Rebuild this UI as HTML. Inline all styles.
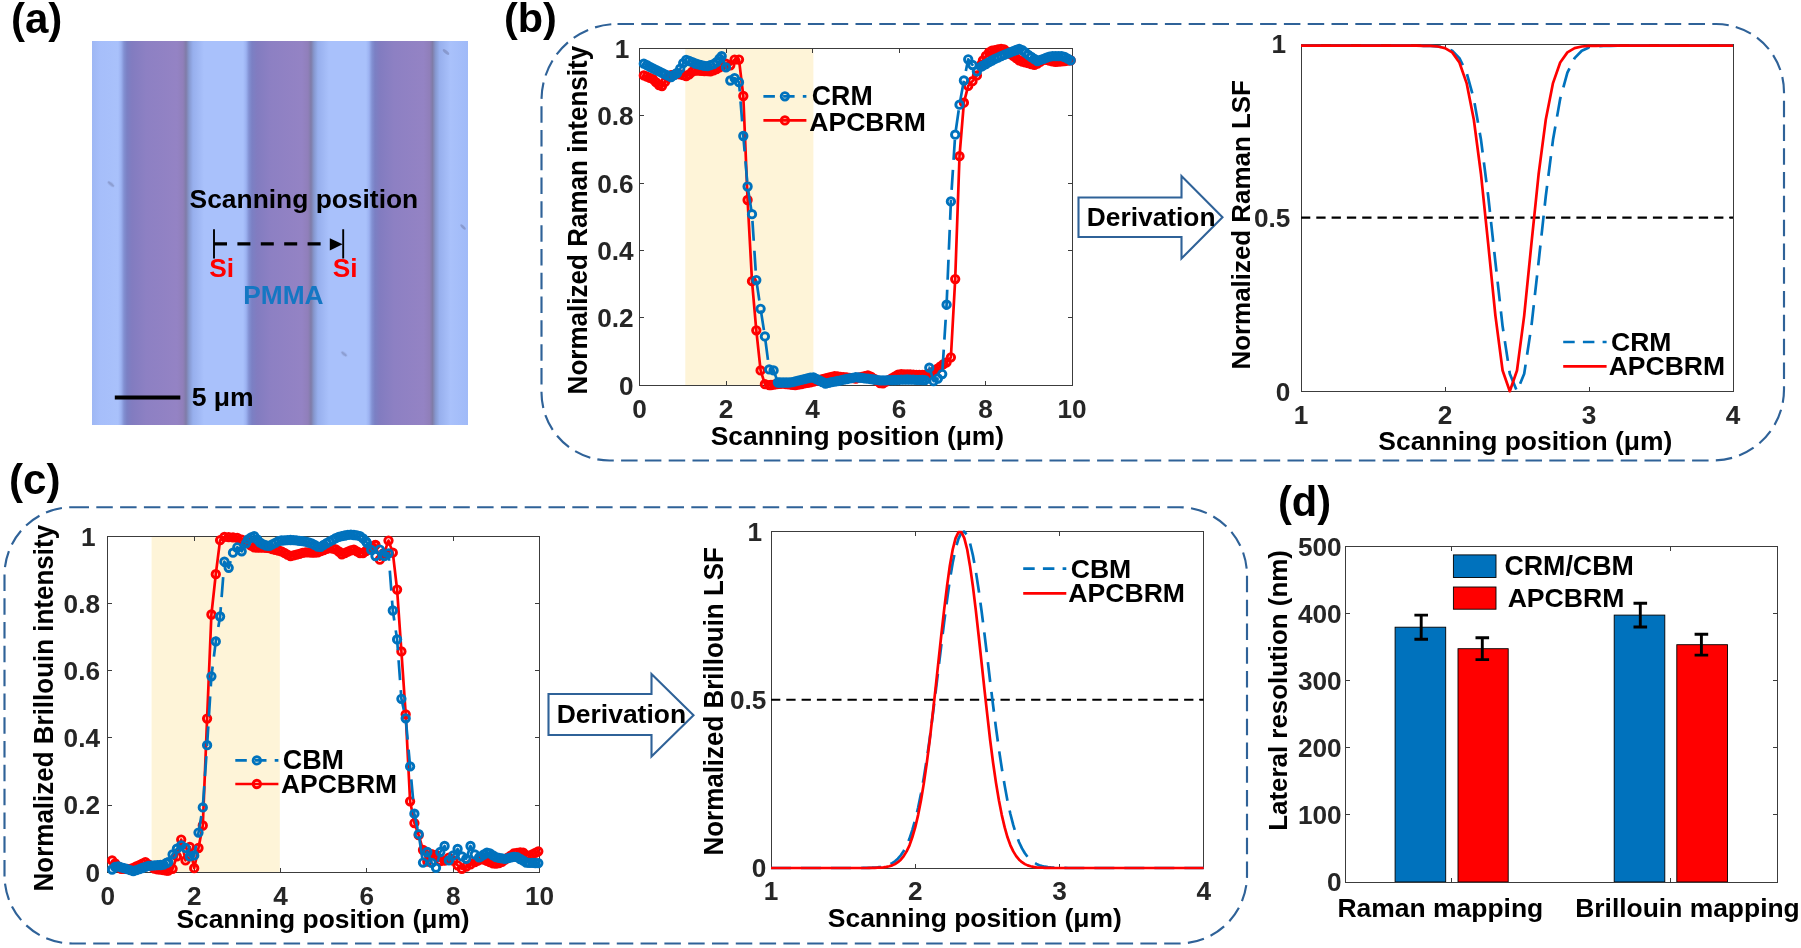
<!DOCTYPE html>
<html><head><meta charset="utf-8"><title>Figure</title>
<style>html,body{margin:0;padding:0;background:#fff}svg{display:block}text{font-family:"Liberation Sans",Arial,sans-serif;font-weight:bold}</style>
</head><body>
<svg width="1801" height="948" viewBox="0 0 1801 948">
<rect width="1801" height="948" fill="#fff"/>
<defs><linearGradient id="ph" gradientUnits="userSpaceOnUse" x1="92" y1="0" x2="468" y2="0">
<stop offset="0.0000" stop-color="rgb(158,183,244)"/>
<stop offset="0.0213" stop-color="rgb(166,190,250)"/>
<stop offset="0.0691" stop-color="rgb(169,193,251)"/>
<stop offset="0.0771" stop-color="rgb(156,178,241)"/>
<stop offset="0.0851" stop-color="rgb(130,144,210)"/>
<stop offset="0.0931" stop-color="rgb(123,128,196)"/>
<stop offset="0.1064" stop-color="rgb(130,124,192)"/>
<stop offset="0.1436" stop-color="rgb(141,128,195)"/>
<stop offset="0.2261" stop-color="rgb(148,131,196)"/>
<stop offset="0.2420" stop-color="rgb(144,127,186)"/>
<stop offset="0.2500" stop-color="rgb(127,124,168)"/>
<stop offset="0.2580" stop-color="rgb(134,152,207)"/>
<stop offset="0.2686" stop-color="rgb(151,175,237)"/>
<stop offset="0.2979" stop-color="rgb(169,193,251)"/>
<stop offset="0.4016" stop-color="rgb(169,193,251)"/>
<stop offset="0.4096" stop-color="rgb(156,178,241)"/>
<stop offset="0.4176" stop-color="rgb(130,144,210)"/>
<stop offset="0.4255" stop-color="rgb(123,128,196)"/>
<stop offset="0.4388" stop-color="rgb(130,124,192)"/>
<stop offset="0.4761" stop-color="rgb(141,128,195)"/>
<stop offset="0.5585" stop-color="rgb(148,131,196)"/>
<stop offset="0.5745" stop-color="rgb(144,127,186)"/>
<stop offset="0.5824" stop-color="rgb(127,124,168)"/>
<stop offset="0.5904" stop-color="rgb(134,152,207)"/>
<stop offset="0.6011" stop-color="rgb(151,175,237)"/>
<stop offset="0.6303" stop-color="rgb(169,193,251)"/>
<stop offset="0.7287" stop-color="rgb(169,193,251)"/>
<stop offset="0.7367" stop-color="rgb(156,178,241)"/>
<stop offset="0.7447" stop-color="rgb(130,144,210)"/>
<stop offset="0.7527" stop-color="rgb(123,128,196)"/>
<stop offset="0.7660" stop-color="rgb(130,124,192)"/>
<stop offset="0.8032" stop-color="rgb(141,128,195)"/>
<stop offset="0.8816" stop-color="rgb(148,131,196)"/>
<stop offset="0.8976" stop-color="rgb(144,127,186)"/>
<stop offset="0.9056" stop-color="rgb(127,124,168)"/>
<stop offset="0.9136" stop-color="rgb(134,152,207)"/>
<stop offset="0.9242" stop-color="rgb(151,175,237)"/>
<stop offset="0.9535" stop-color="rgb(169,193,251)"/>
<stop offset="1.0000" stop-color="rgb(160,186,248)"/>
</linearGradient></defs>
<rect x="92" y="41" width="376" height="384" fill="url(#ph)"/>
<g fill="#5a5f86" opacity="0.35"><ellipse cx="111" cy="184" rx="4" ry="1.6" transform="rotate(40 111 184)"/><ellipse cx="344" cy="354" rx="3.5" ry="1.4" transform="rotate(40 344 354)"/><ellipse cx="463" cy="227" rx="3.5" ry="1.4" transform="rotate(45 463 227)"/><ellipse cx="446" cy="52" rx="4" ry="1.5" transform="rotate(40 446 52)"/></g>
<text x="10.90" y="32.5" font-size="42.04" fill="#000">(a)</text>
<text x="189.61" y="208.0" font-size="26.39" fill="#000">Scanning position</text>
<path d="M214,229.3V258.5M343.2,229.3V258.5" stroke="#000" stroke-width="1.9" fill="none"/>
<path d="M214,243.8H326" stroke="#000" stroke-width="3.3" stroke-dasharray="13,10.4" fill="none"/>
<path d="M342.6,244.3L329.8,238.3V250.5Z" fill="#000"/>
<text x="209.21" y="277.0" font-size="26.27" fill="#FF0000">Si</text>
<text x="332.71" y="277.0" font-size="26.27" fill="#FF0000">Si</text>
<text x="243.19" y="304.4" font-size="26.31" fill="#1577C3">PMMA</text>
<path d="M114.8,397.5H180.3" stroke="#000" stroke-width="4"/>
<text x="191.70" y="406.0" font-size="26.55" fill="#000">5 μm</text>
<path d="M617.5,24H1716A68,68 0 0 1 1784,92V389.5A71,71 0 0 1 1713,460.5H609.5A68,68 0 0 1 541.5,392.5V100A76,76 0 0 1 617.5,24Z" fill="none" stroke="#2F6298" stroke-width="2.15" stroke-dasharray="16.5,7.3"/>
<rect x="4.5" y="507.2" width="1242.5" height="436.3" rx="68" ry="68" fill="none" stroke="#2F6298" stroke-width="2.15" stroke-dasharray="16.5,7.3"/>
<text x="503.93" y="32.2" font-size="41.44" fill="#000">(b)</text>
<rect x="685.3" y="48.5" width="128.10000000000002" height="336.7" fill="#FEF4D8"/>
<path d="M639.5,385.2v-4.3M639.5,48.5v4.3M726.0,385.2v-4.3M726.0,48.5v4.3M812.5,385.2v-4.3M812.5,48.5v4.3M899.0,385.2v-4.3M899.0,48.5v4.3M985.5,385.2v-4.3M985.5,48.5v4.3M1072.0,385.2v-4.3M1072.0,48.5v4.3M639.5,385.2h4.3M1072,385.2h-4.3M639.5,317.9h4.3M1072,317.9h-4.3M639.5,250.5h4.3M1072,250.5h-4.3M639.5,183.2h4.3M1072,183.2h-4.3M639.5,115.8h4.3M1072,115.8h-4.3M639.5,48.5h4.3M1072,48.5h-4.3" stroke="#3c3c3c" stroke-width="1" fill="none" shape-rendering="crispEdges"/>
<rect x="639.5" y="48.5" width="432.5" height="336.7" fill="none" stroke="#3c3c3c" stroke-width="1" shape-rendering="crispEdges"/>
<polyline points="643.8,75.4 646.9,76.6 649.9,77.8 652.9,79.2 655.9,82.2 659.0,85.1 662.0,86.0 665.0,81.9 668.0,77.8 671.1,75.2 674.1,74.6 677.1,74.0 680.2,74.3 683.2,75.2 686.2,76.2 689.2,74.4 692.3,71.6 695.3,70.5 698.3,70.7 701.3,70.8 704.4,71.0 707.4,71.2 710.4,71.4 713.5,70.3 716.5,69.1 719.5,67.4 721.7,66.2 726.0,63.7 730.3,65.3 734.6,59.6 739.0,59.6 743.3,96.0 747.6,200.0 752.0,281.2 756.3,330.3 760.6,370.4 764.9,384.2 769.2,385.2 771.0,385.0 774.0,384.6 777.0,384.2 780.1,383.8 783.1,383.6 786.1,384.0 789.1,384.4 792.2,384.8 795.2,385.2 798.2,384.6 801.3,384.0 804.3,383.4 807.3,382.8 810.3,382.3 813.4,381.6 816.4,380.8 819.4,380.0 822.4,379.2 825.5,378.4 828.5,377.6 831.5,376.8 834.6,376.2 837.6,376.5 840.6,376.8 843.6,377.1 846.7,377.5 849.7,377.8 852.7,378.1 855.8,378.5 858.8,377.7 861.8,376.9 864.8,376.1 867.9,375.3 870.9,376.6 873.9,378.7 876.9,380.9 880.0,383.0 883.0,383.4 886.0,381.7 889.1,379.9 892.1,378.1 895.1,376.4 898.1,374.6 901.2,374.2 904.2,374.3 907.2,374.4 910.2,374.5 913.3,374.6 916.3,374.8 919.3,374.9 922.4,375.0 925.4,374.9 928.4,373.8 931.4,372.6 934.5,371.1 937.5,368.7 940.5,366.3 943.5,364.2 946.6,362.3 950.9,357.3 955.2,279.1 959.5,156.2 963.9,102.7 968.2,85.9 972.5,81.2 976.9,75.4 981.2,64.7 982.9,60.4 985.9,56.0 989.0,52.3 992.0,50.7 995.0,50.1 998.0,49.5 1001.1,48.9 1004.1,49.4 1007.1,51.6 1010.2,53.8 1013.2,55.9 1016.2,58.1 1019.2,60.3 1022.3,61.5 1025.3,62.3 1028.3,63.2 1031.3,64.0 1034.4,64.8 1037.4,63.6 1040.4,61.6 1043.5,59.6 1046.5,59.9 1049.5,60.7 1052.5,61.4 1055.6,61.9 1058.6,61.6 1061.6,61.3 1064.6,61.0 1067.7,60.7 1070.7,60.4" fill="none" stroke="#FF0000" stroke-width="2.7" stroke-linejoin="round"/>
<g fill="none" stroke="#FF0000" stroke-width="2.9">
<circle cx="643.8" cy="75.4" r="3.7"/>
<circle cx="646.9" cy="76.6" r="3.7"/>
<circle cx="649.9" cy="77.8" r="3.7"/>
<circle cx="652.9" cy="79.2" r="3.7"/>
<circle cx="655.9" cy="82.2" r="3.7"/>
<circle cx="659.0" cy="85.1" r="3.7"/>
<circle cx="662.0" cy="86.0" r="3.7"/>
<circle cx="665.0" cy="81.9" r="3.7"/>
<circle cx="668.0" cy="77.8" r="3.7"/>
<circle cx="671.1" cy="75.2" r="3.7"/>
<circle cx="674.1" cy="74.6" r="3.7"/>
<circle cx="677.1" cy="74.0" r="3.7"/>
<circle cx="680.2" cy="74.3" r="3.7"/>
<circle cx="683.2" cy="75.2" r="3.7"/>
<circle cx="686.2" cy="76.2" r="3.7"/>
<circle cx="689.2" cy="74.4" r="3.7"/>
<circle cx="692.3" cy="71.6" r="3.7"/>
<circle cx="695.3" cy="70.5" r="3.7"/>
<circle cx="698.3" cy="70.7" r="3.7"/>
<circle cx="701.3" cy="70.8" r="3.7"/>
<circle cx="704.4" cy="71.0" r="3.7"/>
<circle cx="707.4" cy="71.2" r="3.7"/>
<circle cx="710.4" cy="71.4" r="3.7"/>
<circle cx="713.5" cy="70.3" r="3.7"/>
<circle cx="716.5" cy="69.1" r="3.7"/>
<circle cx="719.5" cy="67.4" r="3.7"/>
<circle cx="721.7" cy="66.2" r="3.7"/>
<circle cx="726.0" cy="63.7" r="3.7"/>
<circle cx="730.3" cy="65.3" r="3.7"/>
<circle cx="734.6" cy="59.6" r="3.7"/>
<circle cx="739.0" cy="59.6" r="3.7"/>
<circle cx="743.3" cy="96.0" r="3.7"/>
<circle cx="747.6" cy="200.0" r="3.7"/>
<circle cx="752.0" cy="281.2" r="3.7"/>
<circle cx="756.3" cy="330.3" r="3.7"/>
<circle cx="760.6" cy="370.4" r="3.7"/>
<circle cx="764.9" cy="384.2" r="3.7"/>
<circle cx="769.2" cy="385.2" r="3.7"/>
<circle cx="771.0" cy="385.0" r="3.7"/>
<circle cx="774.0" cy="384.6" r="3.7"/>
<circle cx="777.0" cy="384.2" r="3.7"/>
<circle cx="780.1" cy="383.8" r="3.7"/>
<circle cx="783.1" cy="383.6" r="3.7"/>
<circle cx="786.1" cy="384.0" r="3.7"/>
<circle cx="789.1" cy="384.4" r="3.7"/>
<circle cx="792.2" cy="384.8" r="3.7"/>
<circle cx="795.2" cy="385.2" r="3.7"/>
<circle cx="798.2" cy="384.6" r="3.7"/>
<circle cx="801.3" cy="384.0" r="3.7"/>
<circle cx="804.3" cy="383.4" r="3.7"/>
<circle cx="807.3" cy="382.8" r="3.7"/>
<circle cx="810.3" cy="382.3" r="3.7"/>
<circle cx="813.4" cy="381.6" r="3.7"/>
<circle cx="816.4" cy="380.8" r="3.7"/>
<circle cx="819.4" cy="380.0" r="3.7"/>
<circle cx="822.4" cy="379.2" r="3.7"/>
<circle cx="825.5" cy="378.4" r="3.7"/>
<circle cx="828.5" cy="377.6" r="3.7"/>
<circle cx="831.5" cy="376.8" r="3.7"/>
<circle cx="834.6" cy="376.2" r="3.7"/>
<circle cx="837.6" cy="376.5" r="3.7"/>
<circle cx="840.6" cy="376.8" r="3.7"/>
<circle cx="843.6" cy="377.1" r="3.7"/>
<circle cx="846.7" cy="377.5" r="3.7"/>
<circle cx="849.7" cy="377.8" r="3.7"/>
<circle cx="852.7" cy="378.1" r="3.7"/>
<circle cx="855.8" cy="378.5" r="3.7"/>
<circle cx="858.8" cy="377.7" r="3.7"/>
<circle cx="861.8" cy="376.9" r="3.7"/>
<circle cx="864.8" cy="376.1" r="3.7"/>
<circle cx="867.9" cy="375.3" r="3.7"/>
<circle cx="870.9" cy="376.6" r="3.7"/>
<circle cx="873.9" cy="378.7" r="3.7"/>
<circle cx="876.9" cy="380.9" r="3.7"/>
<circle cx="880.0" cy="383.0" r="3.7"/>
<circle cx="883.0" cy="383.4" r="3.7"/>
<circle cx="886.0" cy="381.7" r="3.7"/>
<circle cx="889.1" cy="379.9" r="3.7"/>
<circle cx="892.1" cy="378.1" r="3.7"/>
<circle cx="895.1" cy="376.4" r="3.7"/>
<circle cx="898.1" cy="374.6" r="3.7"/>
<circle cx="901.2" cy="374.2" r="3.7"/>
<circle cx="904.2" cy="374.3" r="3.7"/>
<circle cx="907.2" cy="374.4" r="3.7"/>
<circle cx="910.2" cy="374.5" r="3.7"/>
<circle cx="913.3" cy="374.6" r="3.7"/>
<circle cx="916.3" cy="374.8" r="3.7"/>
<circle cx="919.3" cy="374.9" r="3.7"/>
<circle cx="922.4" cy="375.0" r="3.7"/>
<circle cx="925.4" cy="374.9" r="3.7"/>
<circle cx="928.4" cy="373.8" r="3.7"/>
<circle cx="931.4" cy="372.6" r="3.7"/>
<circle cx="934.5" cy="371.1" r="3.7"/>
<circle cx="937.5" cy="368.7" r="3.7"/>
<circle cx="940.5" cy="366.3" r="3.7"/>
<circle cx="943.5" cy="364.2" r="3.7"/>
<circle cx="946.6" cy="362.3" r="3.7"/>
<circle cx="950.9" cy="357.3" r="3.7"/>
<circle cx="955.2" cy="279.1" r="3.7"/>
<circle cx="959.5" cy="156.2" r="3.7"/>
<circle cx="963.9" cy="102.7" r="3.7"/>
<circle cx="968.2" cy="85.9" r="3.7"/>
<circle cx="972.5" cy="81.2" r="3.7"/>
<circle cx="976.9" cy="75.4" r="3.7"/>
<circle cx="981.2" cy="64.7" r="3.7"/>
<circle cx="982.9" cy="60.4" r="3.7"/>
<circle cx="985.9" cy="56.0" r="3.7"/>
<circle cx="989.0" cy="52.3" r="3.7"/>
<circle cx="992.0" cy="50.7" r="3.7"/>
<circle cx="995.0" cy="50.1" r="3.7"/>
<circle cx="998.0" cy="49.5" r="3.7"/>
<circle cx="1001.1" cy="48.9" r="3.7"/>
<circle cx="1004.1" cy="49.4" r="3.7"/>
<circle cx="1007.1" cy="51.6" r="3.7"/>
<circle cx="1010.2" cy="53.8" r="3.7"/>
<circle cx="1013.2" cy="55.9" r="3.7"/>
<circle cx="1016.2" cy="58.1" r="3.7"/>
<circle cx="1019.2" cy="60.3" r="3.7"/>
<circle cx="1022.3" cy="61.5" r="3.7"/>
<circle cx="1025.3" cy="62.3" r="3.7"/>
<circle cx="1028.3" cy="63.2" r="3.7"/>
<circle cx="1031.3" cy="64.0" r="3.7"/>
<circle cx="1034.4" cy="64.8" r="3.7"/>
<circle cx="1037.4" cy="63.6" r="3.7"/>
<circle cx="1040.4" cy="61.6" r="3.7"/>
<circle cx="1043.5" cy="59.6" r="3.7"/>
<circle cx="1046.5" cy="59.9" r="3.7"/>
<circle cx="1049.5" cy="60.7" r="3.7"/>
<circle cx="1052.5" cy="61.4" r="3.7"/>
<circle cx="1055.6" cy="61.9" r="3.7"/>
<circle cx="1058.6" cy="61.6" r="3.7"/>
<circle cx="1061.6" cy="61.3" r="3.7"/>
<circle cx="1064.6" cy="61.0" r="3.7"/>
<circle cx="1067.7" cy="60.7" r="3.7"/>
<circle cx="1070.7" cy="60.4" r="3.7"/>
</g>
<polyline points="643.8,63.7 646.9,65.2 649.9,66.8 652.9,68.4 655.9,69.9 659.0,71.4 662.0,72.8 665.0,74.3 668.0,75.7 671.1,77.1 674.1,75.0 677.1,73.0 680.2,68.7 683.2,63.1 686.2,59.8 689.2,61.0 692.3,62.2 695.3,63.5 698.3,64.3 701.3,65.1 704.4,65.8 707.4,66.1 710.4,65.1 713.5,64.2 716.5,62.2 719.5,58.7 721.7,56.2 726.0,67.4 730.3,80.5 734.6,78.1 739.0,82.2 743.3,136.0 747.6,186.5 752.0,214.2 756.3,280.1 760.6,308.8 764.9,336.4 769.2,369.4 773.6,370.4 777.9,382.5 780.1,382.5 783.1,382.5 786.1,382.5 789.1,382.5 792.2,382.2 795.2,381.4 798.2,380.7 801.3,379.9 804.3,379.2 807.3,378.4 810.3,377.7 813.4,377.5 816.4,379.0 819.4,380.5 822.4,382.0 825.5,383.5 828.5,382.9 831.5,382.2 834.6,381.6 837.6,381.0 840.6,380.3 843.6,379.7 846.7,379.0 849.7,378.4 852.7,377.8 855.8,377.1 858.8,377.5 861.8,377.9 864.8,378.3 867.9,378.7 870.9,379.1 873.9,379.5 876.9,379.9 880.0,380.3 883.0,380.4 886.0,380.3 889.1,380.2 892.1,380.1 895.1,380.0 898.1,379.8 901.2,379.7 904.2,379.6 907.2,379.5 910.2,379.6 913.3,379.7 916.3,379.8 919.3,379.9 922.4,380.0 925.0,380.1 929.3,367.7 933.6,381.2 937.9,378.5 942.2,374.1 946.6,304.7 950.9,201.4 955.2,134.7 959.5,104.7 963.9,80.5 968.2,59.3 972.5,65.0 976.9,71.4 981.2,66.7 982.9,65.7 985.9,64.0 989.0,62.2 992.0,60.5 995.0,58.9 998.0,57.6 1001.1,56.2 1004.1,54.9 1007.1,53.6 1010.2,52.4 1013.2,51.2 1016.2,50.0 1019.2,48.8 1022.3,50.2 1025.3,52.5 1028.3,54.9 1031.3,57.0 1034.4,59.0 1037.4,61.0 1040.4,59.9 1043.5,58.8 1046.5,57.7 1049.5,56.6 1052.5,56.2 1055.6,56.2 1058.6,56.2 1061.6,56.2 1064.6,57.0 1067.7,58.6 1070.7,60.3" fill="none" stroke="#0072BD" stroke-width="2.7" stroke-dasharray="20,10" stroke-linejoin="round"/>
<g fill="none" stroke="#0072BD" stroke-width="2.9">
<circle cx="643.8" cy="63.7" r="3.7"/>
<circle cx="646.9" cy="65.2" r="3.7"/>
<circle cx="649.9" cy="66.8" r="3.7"/>
<circle cx="652.9" cy="68.4" r="3.7"/>
<circle cx="655.9" cy="69.9" r="3.7"/>
<circle cx="659.0" cy="71.4" r="3.7"/>
<circle cx="662.0" cy="72.8" r="3.7"/>
<circle cx="665.0" cy="74.3" r="3.7"/>
<circle cx="668.0" cy="75.7" r="3.7"/>
<circle cx="671.1" cy="77.1" r="3.7"/>
<circle cx="674.1" cy="75.0" r="3.7"/>
<circle cx="677.1" cy="73.0" r="3.7"/>
<circle cx="680.2" cy="68.7" r="3.7"/>
<circle cx="683.2" cy="63.1" r="3.7"/>
<circle cx="686.2" cy="59.8" r="3.7"/>
<circle cx="689.2" cy="61.0" r="3.7"/>
<circle cx="692.3" cy="62.2" r="3.7"/>
<circle cx="695.3" cy="63.5" r="3.7"/>
<circle cx="698.3" cy="64.3" r="3.7"/>
<circle cx="701.3" cy="65.1" r="3.7"/>
<circle cx="704.4" cy="65.8" r="3.7"/>
<circle cx="707.4" cy="66.1" r="3.7"/>
<circle cx="710.4" cy="65.1" r="3.7"/>
<circle cx="713.5" cy="64.2" r="3.7"/>
<circle cx="716.5" cy="62.2" r="3.7"/>
<circle cx="719.5" cy="58.7" r="3.7"/>
<circle cx="721.7" cy="56.2" r="3.7"/>
<circle cx="726.0" cy="67.4" r="3.7"/>
<circle cx="730.3" cy="80.5" r="3.7"/>
<circle cx="734.6" cy="78.1" r="3.7"/>
<circle cx="739.0" cy="82.2" r="3.7"/>
<circle cx="743.3" cy="136.0" r="3.7"/>
<circle cx="747.6" cy="186.5" r="3.7"/>
<circle cx="752.0" cy="214.2" r="3.7"/>
<circle cx="756.3" cy="280.1" r="3.7"/>
<circle cx="760.6" cy="308.8" r="3.7"/>
<circle cx="764.9" cy="336.4" r="3.7"/>
<circle cx="769.2" cy="369.4" r="3.7"/>
<circle cx="773.6" cy="370.4" r="3.7"/>
<circle cx="777.9" cy="382.5" r="3.7"/>
<circle cx="780.1" cy="382.5" r="3.7"/>
<circle cx="783.1" cy="382.5" r="3.7"/>
<circle cx="786.1" cy="382.5" r="3.7"/>
<circle cx="789.1" cy="382.5" r="3.7"/>
<circle cx="792.2" cy="382.2" r="3.7"/>
<circle cx="795.2" cy="381.4" r="3.7"/>
<circle cx="798.2" cy="380.7" r="3.7"/>
<circle cx="801.3" cy="379.9" r="3.7"/>
<circle cx="804.3" cy="379.2" r="3.7"/>
<circle cx="807.3" cy="378.4" r="3.7"/>
<circle cx="810.3" cy="377.7" r="3.7"/>
<circle cx="813.4" cy="377.5" r="3.7"/>
<circle cx="816.4" cy="379.0" r="3.7"/>
<circle cx="819.4" cy="380.5" r="3.7"/>
<circle cx="822.4" cy="382.0" r="3.7"/>
<circle cx="825.5" cy="383.5" r="3.7"/>
<circle cx="828.5" cy="382.9" r="3.7"/>
<circle cx="831.5" cy="382.2" r="3.7"/>
<circle cx="834.6" cy="381.6" r="3.7"/>
<circle cx="837.6" cy="381.0" r="3.7"/>
<circle cx="840.6" cy="380.3" r="3.7"/>
<circle cx="843.6" cy="379.7" r="3.7"/>
<circle cx="846.7" cy="379.0" r="3.7"/>
<circle cx="849.7" cy="378.4" r="3.7"/>
<circle cx="852.7" cy="377.8" r="3.7"/>
<circle cx="855.8" cy="377.1" r="3.7"/>
<circle cx="858.8" cy="377.5" r="3.7"/>
<circle cx="861.8" cy="377.9" r="3.7"/>
<circle cx="864.8" cy="378.3" r="3.7"/>
<circle cx="867.9" cy="378.7" r="3.7"/>
<circle cx="870.9" cy="379.1" r="3.7"/>
<circle cx="873.9" cy="379.5" r="3.7"/>
<circle cx="876.9" cy="379.9" r="3.7"/>
<circle cx="880.0" cy="380.3" r="3.7"/>
<circle cx="883.0" cy="380.4" r="3.7"/>
<circle cx="886.0" cy="380.3" r="3.7"/>
<circle cx="889.1" cy="380.2" r="3.7"/>
<circle cx="892.1" cy="380.1" r="3.7"/>
<circle cx="895.1" cy="380.0" r="3.7"/>
<circle cx="898.1" cy="379.8" r="3.7"/>
<circle cx="901.2" cy="379.7" r="3.7"/>
<circle cx="904.2" cy="379.6" r="3.7"/>
<circle cx="907.2" cy="379.5" r="3.7"/>
<circle cx="910.2" cy="379.6" r="3.7"/>
<circle cx="913.3" cy="379.7" r="3.7"/>
<circle cx="916.3" cy="379.8" r="3.7"/>
<circle cx="919.3" cy="379.9" r="3.7"/>
<circle cx="922.4" cy="380.0" r="3.7"/>
<circle cx="925.0" cy="380.1" r="3.7"/>
<circle cx="929.3" cy="367.7" r="3.7"/>
<circle cx="933.6" cy="381.2" r="3.7"/>
<circle cx="937.9" cy="378.5" r="3.7"/>
<circle cx="942.2" cy="374.1" r="3.7"/>
<circle cx="946.6" cy="304.7" r="3.7"/>
<circle cx="950.9" cy="201.4" r="3.7"/>
<circle cx="955.2" cy="134.7" r="3.7"/>
<circle cx="959.5" cy="104.7" r="3.7"/>
<circle cx="963.9" cy="80.5" r="3.7"/>
<circle cx="968.2" cy="59.3" r="3.7"/>
<circle cx="972.5" cy="65.0" r="3.7"/>
<circle cx="976.9" cy="71.4" r="3.7"/>
<circle cx="981.2" cy="66.7" r="3.7"/>
<circle cx="982.9" cy="65.7" r="3.7"/>
<circle cx="985.9" cy="64.0" r="3.7"/>
<circle cx="989.0" cy="62.2" r="3.7"/>
<circle cx="992.0" cy="60.5" r="3.7"/>
<circle cx="995.0" cy="58.9" r="3.7"/>
<circle cx="998.0" cy="57.6" r="3.7"/>
<circle cx="1001.1" cy="56.2" r="3.7"/>
<circle cx="1004.1" cy="54.9" r="3.7"/>
<circle cx="1007.1" cy="53.6" r="3.7"/>
<circle cx="1010.2" cy="52.4" r="3.7"/>
<circle cx="1013.2" cy="51.2" r="3.7"/>
<circle cx="1016.2" cy="50.0" r="3.7"/>
<circle cx="1019.2" cy="48.8" r="3.7"/>
<circle cx="1022.3" cy="50.2" r="3.7"/>
<circle cx="1025.3" cy="52.5" r="3.7"/>
<circle cx="1028.3" cy="54.9" r="3.7"/>
<circle cx="1031.3" cy="57.0" r="3.7"/>
<circle cx="1034.4" cy="59.0" r="3.7"/>
<circle cx="1037.4" cy="61.0" r="3.7"/>
<circle cx="1040.4" cy="59.9" r="3.7"/>
<circle cx="1043.5" cy="58.8" r="3.7"/>
<circle cx="1046.5" cy="57.7" r="3.7"/>
<circle cx="1049.5" cy="56.6" r="3.7"/>
<circle cx="1052.5" cy="56.2" r="3.7"/>
<circle cx="1055.6" cy="56.2" r="3.7"/>
<circle cx="1058.6" cy="56.2" r="3.7"/>
<circle cx="1061.6" cy="56.2" r="3.7"/>
<circle cx="1064.6" cy="57.0" r="3.7"/>
<circle cx="1067.7" cy="58.6" r="3.7"/>
<circle cx="1070.7" cy="60.3" r="3.7"/>
</g>
<text x="639.5" y="417.6" font-size="26.20" text-anchor="middle" fill="#262626">0</text>
<text x="726.0" y="417.6" font-size="26.20" text-anchor="middle" fill="#262626">2</text>
<text x="812.5" y="417.6" font-size="26.20" text-anchor="middle" fill="#262626">4</text>
<text x="899.0" y="417.6" font-size="26.20" text-anchor="middle" fill="#262626">6</text>
<text x="985.5" y="417.6" font-size="26.20" text-anchor="middle" fill="#262626">8</text>
<text x="1072.0" y="417.6" font-size="26.20" text-anchor="middle" fill="#262626">10</text>
<text x="633.60" y="394.6" font-size="26.20" text-anchor="end" fill="#262626">0</text>
<text x="633.60" y="327.3" font-size="26.20" text-anchor="end" fill="#262626">0.2</text>
<text x="633.60" y="259.9" font-size="26.20" text-anchor="end" fill="#262626">0.4</text>
<text x="633.60" y="192.6" font-size="26.20" text-anchor="end" fill="#262626">0.6</text>
<text x="633.60" y="125.2" font-size="26.20" text-anchor="end" fill="#262626">0.8</text>
<text x="629.30" y="57.9" font-size="26.20" text-anchor="end" fill="#262626">1</text>
<text x="710.71" y="444.6" font-size="26.42" fill="#000">Scanning position (μm)</text>
<text transform="translate(586.9,394.4) rotate(-90) scale(1,1.03)" font-size="26.04" fill="#000">Normalized Raman intensity</text>
<path d="M763.4,96.3H806.4" stroke="#0072BD" stroke-width="2.7" stroke-dasharray="11.5,8.2" fill="none"/>
<path d="M763.4,120.4H806.4" stroke="#FF0000" stroke-width="2.7" fill="none"/>
<circle cx="784.9" cy="96.3" r="3.7" fill="none" stroke="#0072BD" stroke-width="2.9"/><circle cx="784.9" cy="120.4" r="3.7" fill="none" stroke="#FF0000" stroke-width="2.9"/>
<text x="811.83" y="104.8" font-size="26.73" fill="#000">CRM</text>
<text x="809.24" y="130.5" font-size="26.59" fill="#000">APCBRM</text>
<path d="M1078.5,197.5H1181.5V176L1222.5,217.25L1181.5,258.5V237H1078.5Z" fill="#fff" stroke="#2F6298" stroke-width="2.1" stroke-linejoin="miter"/>
<text x="1086.79" y="225.8" font-size="26.34" fill="#000">Derivation</text>
<path d="M1301.0,391.2v-4.3M1301.0,44v4.3M1445.0,391.2v-4.3M1445.0,44v4.3M1589.0,391.2v-4.3M1589.0,44v4.3M1733.0,391.2v-4.3M1733.0,44v4.3M1301,391.2h4.3M1733,391.2h-4.3M1301,217.6h4.3M1733,217.6h-4.3M1301,44.0h4.3M1733,44.0h-4.3" stroke="#3c3c3c" stroke-width="1" fill="none" shape-rendering="crispEdges"/>
<rect x="1301" y="44" width="432" height="347.2" fill="none" stroke="#3c3c3c" stroke-width="1" shape-rendering="crispEdges"/>
<path d="M1301,217.6H1733" stroke="#000" stroke-width="2.1" stroke-dasharray="9.3,6.0" fill="none"/>
<polyline points="1301.0,45.7 1308.2,45.7 1315.4,45.7 1322.6,45.7 1329.8,45.7 1337.0,45.7 1344.2,45.7 1351.4,45.7 1358.6,45.7 1365.8,45.7 1373.0,45.7 1380.2,45.7 1387.4,45.7 1394.6,45.7 1401.8,45.7 1409.0,45.7 1416.2,45.7 1423.4,45.8 1430.6,45.9 1437.8,46.4 1445.0,47.6 1452.2,50.8 1459.4,58.1 1466.6,72.7 1473.8,98.8 1481.0,139.8 1488.2,196.0 1495.4,262.0 1502.6,326.3 1509.8,373.7 1517.0,391.2 1524.2,373.7 1531.4,326.3 1538.6,262.0 1545.8,196.0 1553.0,139.8 1560.2,98.8 1567.4,72.7 1574.6,58.1 1581.8,50.8 1589.0,47.6 1596.2,46.4 1603.4,45.9 1610.6,45.8 1617.8,45.7 1625.0,45.7 1632.2,45.7 1639.4,45.7 1646.6,45.7 1653.8,45.7 1661.0,45.7 1668.2,45.7 1675.4,45.7 1682.6,45.7 1689.8,45.7 1697.0,45.7 1704.2,45.7 1711.4,45.7 1718.6,45.7 1725.8,45.7 1733.0,45.7" fill="none" stroke="#0072BD" stroke-width="2.7" stroke-dasharray="20,10" stroke-linejoin="round"/>
<polyline points="1301.0,45.7 1308.2,45.7 1315.4,45.7 1322.6,45.7 1329.8,45.7 1337.0,45.7 1344.2,45.7 1351.4,45.7 1358.6,45.7 1365.8,45.7 1373.0,45.7 1380.2,45.7 1387.4,45.7 1394.6,45.7 1401.8,45.7 1409.0,45.7 1416.2,45.7 1423.4,45.8 1430.6,45.9 1437.8,46.5 1445.0,48.1 1452.2,52.4 1459.4,62.5 1466.6,83.1 1473.8,119.5 1481.0,174.3 1488.2,243.9 1495.4,315.6 1502.6,370.5 1509.8,391.2 1517.0,370.5 1524.2,315.6 1531.4,243.9 1538.6,174.3 1545.8,119.5 1553.0,83.1 1560.2,62.5 1567.4,52.4 1574.6,48.1 1581.8,46.5 1589.0,45.9 1596.2,45.8 1603.4,45.7 1610.6,45.7 1617.8,45.7 1625.0,45.7 1632.2,45.7 1639.4,45.7 1646.6,45.7 1653.8,45.7 1661.0,45.7 1668.2,45.7 1675.4,45.7 1682.6,45.7 1689.8,45.7 1697.0,45.7 1704.2,45.7 1711.4,45.7 1718.6,45.7 1725.8,45.7 1733.0,45.7" fill="none" stroke="#FF0000" stroke-width="2.7" stroke-linejoin="round"/>
<text x="1301.0" y="423.7" font-size="26.20" text-anchor="middle" fill="#262626">1</text>
<text x="1445.0" y="423.7" font-size="26.20" text-anchor="middle" fill="#262626">2</text>
<text x="1589.0" y="423.7" font-size="26.20" text-anchor="middle" fill="#262626">3</text>
<text x="1733.0" y="423.7" font-size="26.20" text-anchor="middle" fill="#262626">4</text>
<text x="1290.40" y="400.6" font-size="26.20" text-anchor="end" fill="#262626">0</text>
<text x="1290.40" y="227.0" font-size="26.20" text-anchor="end" fill="#262626">0.5</text>
<text x="1286.10" y="53.4" font-size="26.20" text-anchor="end" fill="#262626">1</text>
<text x="1378.31" y="449.5" font-size="26.46" fill="#000">Scanning position (μm)</text>
<text transform="translate(1249.8,369.5) rotate(-90) scale(1,1.03)" font-size="25.92" fill="#000">Normalized Raman LSF</text>
<path d="M1563.2,342H1606.6" stroke="#0072BD" stroke-width="2.7" stroke-dasharray="11.5,8.2" fill="none"/>
<path d="M1563.2,366.4H1606.6" stroke="#FF0000" stroke-width="2.7" fill="none"/>
<text x="1611.04" y="351.3" font-size="26.54" fill="#000">CRM</text>
<text x="1608.74" y="374.8" font-size="26.50" fill="#000">APCBRM</text>
<text x="8.99" y="493.8" font-size="42.13" fill="#000">(c)</text>
<rect x="151.6" y="536.2" width="128.20000000000002" height="336.0" fill="#FEF4D8"/>
<path d="M107.8,872.2v-4.3M107.8,536.2v4.3M194.2,872.2v-4.3M194.2,536.2v4.3M280.5,872.2v-4.3M280.5,536.2v4.3M366.9,872.2v-4.3M366.9,536.2v4.3M453.2,872.2v-4.3M453.2,536.2v4.3M539.6,872.2v-4.3M539.6,536.2v4.3M107.8,872.2h4.3M539.6,872.2h-4.3M107.8,805.0h4.3M539.6,805.0h-4.3M107.8,737.8h4.3M539.6,737.8h-4.3M107.8,670.6h4.3M539.6,670.6h-4.3M107.8,603.4h4.3M539.6,603.4h-4.3M107.8,536.2h4.3M539.6,536.2h-4.3" stroke="#3c3c3c" stroke-width="1" fill="none" shape-rendering="crispEdges"/>
<rect x="107.8" y="536.2" width="431.8" height="336.0" fill="none" stroke="#3c3c3c" stroke-width="1" shape-rendering="crispEdges"/>
<polyline points="112.1,860.4 115.1,863.4 118.2,866.3 121.2,868.8 124.2,868.8 127.2,868.8 130.3,868.8 133.3,868.0 136.3,866.5 139.3,865.1 142.3,863.6 145.4,862.1 148.4,864.3 151.4,866.4 154.4,868.5 157.5,869.3 160.5,869.7 163.5,870.2 166.5,870.7 168.3,870.5 172.6,868.8 176.9,856.4 181.2,839.6 185.5,860.4 189.8,847.0 194.2,868.2 198.5,848.0 202.8,825.5 207.1,718.6 211.4,614.5 215.8,574.2 220.1,540.2 224.4,536.9 228.7,537.1 233.0,537.4 237.3,537.9 241.7,539.6 246.0,541.2 250.3,544.8 251.2,545.5 254.2,547.3 257.2,547.5 260.2,547.6 263.2,547.7 266.3,547.9 269.3,548.2 272.3,549.0 275.3,549.8 278.4,550.5 281.4,551.3 284.4,552.8 287.4,554.7 290.5,556.2 293.5,555.4 296.5,554.6 299.5,553.8 302.5,552.9 305.6,552.4 308.6,552.4 311.6,552.5 314.6,552.6 317.7,552.3 320.7,551.2 323.7,550.0 326.7,548.8 329.7,548.1 332.8,548.7 335.8,549.3 338.8,551.5 341.8,554.3 344.9,553.0 347.9,551.7 350.9,550.4 353.9,549.6 356.9,551.3 360.0,553.0 363.0,553.1 366.0,551.0 369.0,549.0 372.1,547.1 375.1,545.2 375.5,544.9 379.8,559.7 384.2,553.0 388.5,540.6 392.8,552.7 397.1,589.6 401.4,651.4 405.7,714.3 410.1,801.3 414.4,823.1 418.7,835.2 423.0,850.0 427.3,861.6 431.7,854.2 436.0,855.0 440.3,861.0 444.6,860.7 448.9,857.6 453.2,860.7 457.6,865.3 461.9,868.8 466.2,866.6 470.5,864.4 474.8,862.2 477.9,860.7 480.9,859.2 483.9,859.7 486.9,860.9 489.9,862.2 493.0,863.4 496.0,863.5 499.0,863.0 502.0,861.9 505.1,859.7 508.1,857.5 511.1,855.3 514.1,853.3 517.1,852.8 520.2,852.4 523.2,852.7 526.2,855.1 529.2,855.8 532.3,854.3 535.3,852.8 538.3,851.3" fill="none" stroke="#FF0000" stroke-width="2.7" stroke-linejoin="round"/>
<g fill="none" stroke="#FF0000" stroke-width="2.9">
<circle cx="112.1" cy="860.4" r="3.7"/>
<circle cx="115.1" cy="863.4" r="3.7"/>
<circle cx="118.2" cy="866.3" r="3.7"/>
<circle cx="121.2" cy="868.8" r="3.7"/>
<circle cx="124.2" cy="868.8" r="3.7"/>
<circle cx="127.2" cy="868.8" r="3.7"/>
<circle cx="130.3" cy="868.8" r="3.7"/>
<circle cx="133.3" cy="868.0" r="3.7"/>
<circle cx="136.3" cy="866.5" r="3.7"/>
<circle cx="139.3" cy="865.1" r="3.7"/>
<circle cx="142.3" cy="863.6" r="3.7"/>
<circle cx="145.4" cy="862.1" r="3.7"/>
<circle cx="148.4" cy="864.3" r="3.7"/>
<circle cx="151.4" cy="866.4" r="3.7"/>
<circle cx="154.4" cy="868.5" r="3.7"/>
<circle cx="157.5" cy="869.3" r="3.7"/>
<circle cx="160.5" cy="869.7" r="3.7"/>
<circle cx="163.5" cy="870.2" r="3.7"/>
<circle cx="166.5" cy="870.7" r="3.7"/>
<circle cx="168.3" cy="870.5" r="3.7"/>
<circle cx="172.6" cy="868.8" r="3.7"/>
<circle cx="176.9" cy="856.4" r="3.7"/>
<circle cx="181.2" cy="839.6" r="3.7"/>
<circle cx="185.5" cy="860.4" r="3.7"/>
<circle cx="189.8" cy="847.0" r="3.7"/>
<circle cx="194.2" cy="868.2" r="3.7"/>
<circle cx="198.5" cy="848.0" r="3.7"/>
<circle cx="202.8" cy="825.5" r="3.7"/>
<circle cx="207.1" cy="718.6" r="3.7"/>
<circle cx="211.4" cy="614.5" r="3.7"/>
<circle cx="215.8" cy="574.2" r="3.7"/>
<circle cx="220.1" cy="540.2" r="3.7"/>
<circle cx="224.4" cy="536.9" r="3.7"/>
<circle cx="228.7" cy="537.1" r="3.7"/>
<circle cx="233.0" cy="537.4" r="3.7"/>
<circle cx="237.3" cy="537.9" r="3.7"/>
<circle cx="241.7" cy="539.6" r="3.7"/>
<circle cx="246.0" cy="541.2" r="3.7"/>
<circle cx="250.3" cy="544.8" r="3.7"/>
<circle cx="251.2" cy="545.5" r="3.7"/>
<circle cx="254.2" cy="547.3" r="3.7"/>
<circle cx="257.2" cy="547.5" r="3.7"/>
<circle cx="260.2" cy="547.6" r="3.7"/>
<circle cx="263.2" cy="547.7" r="3.7"/>
<circle cx="266.3" cy="547.9" r="3.7"/>
<circle cx="269.3" cy="548.2" r="3.7"/>
<circle cx="272.3" cy="549.0" r="3.7"/>
<circle cx="275.3" cy="549.8" r="3.7"/>
<circle cx="278.4" cy="550.5" r="3.7"/>
<circle cx="281.4" cy="551.3" r="3.7"/>
<circle cx="284.4" cy="552.8" r="3.7"/>
<circle cx="287.4" cy="554.7" r="3.7"/>
<circle cx="290.5" cy="556.2" r="3.7"/>
<circle cx="293.5" cy="555.4" r="3.7"/>
<circle cx="296.5" cy="554.6" r="3.7"/>
<circle cx="299.5" cy="553.8" r="3.7"/>
<circle cx="302.5" cy="552.9" r="3.7"/>
<circle cx="305.6" cy="552.4" r="3.7"/>
<circle cx="308.6" cy="552.4" r="3.7"/>
<circle cx="311.6" cy="552.5" r="3.7"/>
<circle cx="314.6" cy="552.6" r="3.7"/>
<circle cx="317.7" cy="552.3" r="3.7"/>
<circle cx="320.7" cy="551.2" r="3.7"/>
<circle cx="323.7" cy="550.0" r="3.7"/>
<circle cx="326.7" cy="548.8" r="3.7"/>
<circle cx="329.7" cy="548.1" r="3.7"/>
<circle cx="332.8" cy="548.7" r="3.7"/>
<circle cx="335.8" cy="549.3" r="3.7"/>
<circle cx="338.8" cy="551.5" r="3.7"/>
<circle cx="341.8" cy="554.3" r="3.7"/>
<circle cx="344.9" cy="553.0" r="3.7"/>
<circle cx="347.9" cy="551.7" r="3.7"/>
<circle cx="350.9" cy="550.4" r="3.7"/>
<circle cx="353.9" cy="549.6" r="3.7"/>
<circle cx="356.9" cy="551.3" r="3.7"/>
<circle cx="360.0" cy="553.0" r="3.7"/>
<circle cx="363.0" cy="553.1" r="3.7"/>
<circle cx="366.0" cy="551.0" r="3.7"/>
<circle cx="369.0" cy="549.0" r="3.7"/>
<circle cx="372.1" cy="547.1" r="3.7"/>
<circle cx="375.1" cy="545.2" r="3.7"/>
<circle cx="375.5" cy="544.9" r="3.7"/>
<circle cx="379.8" cy="559.7" r="3.7"/>
<circle cx="384.2" cy="553.0" r="3.7"/>
<circle cx="388.5" cy="540.6" r="3.7"/>
<circle cx="392.8" cy="552.7" r="3.7"/>
<circle cx="397.1" cy="589.6" r="3.7"/>
<circle cx="401.4" cy="651.4" r="3.7"/>
<circle cx="405.7" cy="714.3" r="3.7"/>
<circle cx="410.1" cy="801.3" r="3.7"/>
<circle cx="414.4" cy="823.1" r="3.7"/>
<circle cx="418.7" cy="835.2" r="3.7"/>
<circle cx="423.0" cy="850.0" r="3.7"/>
<circle cx="427.3" cy="861.6" r="3.7"/>
<circle cx="431.7" cy="854.2" r="3.7"/>
<circle cx="436.0" cy="855.0" r="3.7"/>
<circle cx="440.3" cy="861.0" r="3.7"/>
<circle cx="444.6" cy="860.7" r="3.7"/>
<circle cx="448.9" cy="857.6" r="3.7"/>
<circle cx="453.2" cy="860.7" r="3.7"/>
<circle cx="457.6" cy="865.3" r="3.7"/>
<circle cx="461.9" cy="868.8" r="3.7"/>
<circle cx="466.2" cy="866.6" r="3.7"/>
<circle cx="470.5" cy="864.4" r="3.7"/>
<circle cx="474.8" cy="862.2" r="3.7"/>
<circle cx="477.9" cy="860.7" r="3.7"/>
<circle cx="480.9" cy="859.2" r="3.7"/>
<circle cx="483.9" cy="859.7" r="3.7"/>
<circle cx="486.9" cy="860.9" r="3.7"/>
<circle cx="489.9" cy="862.2" r="3.7"/>
<circle cx="493.0" cy="863.4" r="3.7"/>
<circle cx="496.0" cy="863.5" r="3.7"/>
<circle cx="499.0" cy="863.0" r="3.7"/>
<circle cx="502.0" cy="861.9" r="3.7"/>
<circle cx="505.1" cy="859.7" r="3.7"/>
<circle cx="508.1" cy="857.5" r="3.7"/>
<circle cx="511.1" cy="855.3" r="3.7"/>
<circle cx="514.1" cy="853.3" r="3.7"/>
<circle cx="517.1" cy="852.8" r="3.7"/>
<circle cx="520.2" cy="852.4" r="3.7"/>
<circle cx="523.2" cy="852.7" r="3.7"/>
<circle cx="526.2" cy="855.1" r="3.7"/>
<circle cx="529.2" cy="855.8" r="3.7"/>
<circle cx="532.3" cy="854.3" r="3.7"/>
<circle cx="535.3" cy="852.8" r="3.7"/>
<circle cx="538.3" cy="851.3" r="3.7"/>
</g>
<polyline points="112.1,869.5 115.1,866.9 118.2,866.4 121.2,867.3 124.2,868.2 127.2,869.2 130.3,870.1 133.3,871.1 136.3,870.2 139.3,869.1 142.3,868.0 145.4,866.9 148.4,865.8 151.4,865.6 154.4,865.4 157.5,865.2 160.5,865.0 163.5,864.6 166.5,863.0 168.3,862.1 172.6,854.4 176.9,848.7 181.2,845.3 185.5,848.0 189.8,856.4 194.2,855.4 198.5,832.6 202.8,807.4 207.1,745.2 211.4,676.3 215.8,641.4 220.1,616.5 224.4,561.7 228.7,567.8 233.0,552.7 237.3,547.3 241.7,551.3 246.0,543.3 248.1,539.4 251.2,537.5 254.2,536.2 257.2,539.4 260.2,542.7 263.2,544.4 266.3,545.5 269.3,545.8 272.3,544.3 275.3,542.8 278.4,541.2 281.4,540.5 284.4,540.3 287.4,540.1 290.5,540.0 293.5,540.1 296.5,540.4 299.5,540.8 302.5,541.1 305.6,541.7 308.6,542.5 311.6,543.4 314.6,544.9 317.7,546.6 320.7,546.8 323.7,544.9 326.7,543.1 329.7,541.4 332.8,539.8 335.8,538.2 338.8,536.8 341.8,536.1 344.9,535.5 347.9,534.8 350.9,534.7 353.9,535.0 356.9,535.3 360.0,536.2 363.0,538.3 366.0,541.4 366.9,542.8 371.2,549.8 375.5,556.0 379.8,549.6 384.2,556.0 388.5,553.3 392.8,610.5 397.1,639.4 401.4,698.8 405.7,718.3 410.1,766.4 414.4,813.7 418.7,834.2 423.0,862.6 427.3,852.0 431.7,862.8 436.0,867.8 440.3,852.0 444.6,846.0 448.9,860.4 453.2,855.4 457.6,849.0 461.9,856.4 466.2,858.8 470.5,846.0 474.8,854.4 479.1,857.4 480.9,856.3 483.9,854.5 486.9,852.6 489.9,853.4 493.0,855.3 496.0,857.1 499.0,857.8 502.0,858.3 505.1,858.8 508.1,858.1 511.1,857.4 514.1,856.8 517.1,857.2 520.2,859.0 523.2,860.7 526.2,862.5 529.2,862.9 532.3,862.9 535.3,863.0 538.3,863.1" fill="none" stroke="#0072BD" stroke-width="2.7" stroke-dasharray="20,10" stroke-linejoin="round"/>
<g fill="none" stroke="#0072BD" stroke-width="2.9">
<circle cx="112.1" cy="869.5" r="3.7"/>
<circle cx="115.1" cy="866.9" r="3.7"/>
<circle cx="118.2" cy="866.4" r="3.7"/>
<circle cx="121.2" cy="867.3" r="3.7"/>
<circle cx="124.2" cy="868.2" r="3.7"/>
<circle cx="127.2" cy="869.2" r="3.7"/>
<circle cx="130.3" cy="870.1" r="3.7"/>
<circle cx="133.3" cy="871.1" r="3.7"/>
<circle cx="136.3" cy="870.2" r="3.7"/>
<circle cx="139.3" cy="869.1" r="3.7"/>
<circle cx="142.3" cy="868.0" r="3.7"/>
<circle cx="145.4" cy="866.9" r="3.7"/>
<circle cx="148.4" cy="865.8" r="3.7"/>
<circle cx="151.4" cy="865.6" r="3.7"/>
<circle cx="154.4" cy="865.4" r="3.7"/>
<circle cx="157.5" cy="865.2" r="3.7"/>
<circle cx="160.5" cy="865.0" r="3.7"/>
<circle cx="163.5" cy="864.6" r="3.7"/>
<circle cx="166.5" cy="863.0" r="3.7"/>
<circle cx="168.3" cy="862.1" r="3.7"/>
<circle cx="172.6" cy="854.4" r="3.7"/>
<circle cx="176.9" cy="848.7" r="3.7"/>
<circle cx="181.2" cy="845.3" r="3.7"/>
<circle cx="185.5" cy="848.0" r="3.7"/>
<circle cx="189.8" cy="856.4" r="3.7"/>
<circle cx="194.2" cy="855.4" r="3.7"/>
<circle cx="198.5" cy="832.6" r="3.7"/>
<circle cx="202.8" cy="807.4" r="3.7"/>
<circle cx="207.1" cy="745.2" r="3.7"/>
<circle cx="211.4" cy="676.3" r="3.7"/>
<circle cx="215.8" cy="641.4" r="3.7"/>
<circle cx="220.1" cy="616.5" r="3.7"/>
<circle cx="224.4" cy="561.7" r="3.7"/>
<circle cx="228.7" cy="567.8" r="3.7"/>
<circle cx="233.0" cy="552.7" r="3.7"/>
<circle cx="237.3" cy="547.3" r="3.7"/>
<circle cx="241.7" cy="551.3" r="3.7"/>
<circle cx="246.0" cy="543.3" r="3.7"/>
<circle cx="248.1" cy="539.4" r="3.7"/>
<circle cx="251.2" cy="537.5" r="3.7"/>
<circle cx="254.2" cy="536.2" r="3.7"/>
<circle cx="257.2" cy="539.4" r="3.7"/>
<circle cx="260.2" cy="542.7" r="3.7"/>
<circle cx="263.2" cy="544.4" r="3.7"/>
<circle cx="266.3" cy="545.5" r="3.7"/>
<circle cx="269.3" cy="545.8" r="3.7"/>
<circle cx="272.3" cy="544.3" r="3.7"/>
<circle cx="275.3" cy="542.8" r="3.7"/>
<circle cx="278.4" cy="541.2" r="3.7"/>
<circle cx="281.4" cy="540.5" r="3.7"/>
<circle cx="284.4" cy="540.3" r="3.7"/>
<circle cx="287.4" cy="540.1" r="3.7"/>
<circle cx="290.5" cy="540.0" r="3.7"/>
<circle cx="293.5" cy="540.1" r="3.7"/>
<circle cx="296.5" cy="540.4" r="3.7"/>
<circle cx="299.5" cy="540.8" r="3.7"/>
<circle cx="302.5" cy="541.1" r="3.7"/>
<circle cx="305.6" cy="541.7" r="3.7"/>
<circle cx="308.6" cy="542.5" r="3.7"/>
<circle cx="311.6" cy="543.4" r="3.7"/>
<circle cx="314.6" cy="544.9" r="3.7"/>
<circle cx="317.7" cy="546.6" r="3.7"/>
<circle cx="320.7" cy="546.8" r="3.7"/>
<circle cx="323.7" cy="544.9" r="3.7"/>
<circle cx="326.7" cy="543.1" r="3.7"/>
<circle cx="329.7" cy="541.4" r="3.7"/>
<circle cx="332.8" cy="539.8" r="3.7"/>
<circle cx="335.8" cy="538.2" r="3.7"/>
<circle cx="338.8" cy="536.8" r="3.7"/>
<circle cx="341.8" cy="536.1" r="3.7"/>
<circle cx="344.9" cy="535.5" r="3.7"/>
<circle cx="347.9" cy="534.8" r="3.7"/>
<circle cx="350.9" cy="534.7" r="3.7"/>
<circle cx="353.9" cy="535.0" r="3.7"/>
<circle cx="356.9" cy="535.3" r="3.7"/>
<circle cx="360.0" cy="536.2" r="3.7"/>
<circle cx="363.0" cy="538.3" r="3.7"/>
<circle cx="366.0" cy="541.4" r="3.7"/>
<circle cx="366.9" cy="542.8" r="3.7"/>
<circle cx="371.2" cy="549.8" r="3.7"/>
<circle cx="375.5" cy="556.0" r="3.7"/>
<circle cx="379.8" cy="549.6" r="3.7"/>
<circle cx="384.2" cy="556.0" r="3.7"/>
<circle cx="388.5" cy="553.3" r="3.7"/>
<circle cx="392.8" cy="610.5" r="3.7"/>
<circle cx="397.1" cy="639.4" r="3.7"/>
<circle cx="401.4" cy="698.8" r="3.7"/>
<circle cx="405.7" cy="718.3" r="3.7"/>
<circle cx="410.1" cy="766.4" r="3.7"/>
<circle cx="414.4" cy="813.7" r="3.7"/>
<circle cx="418.7" cy="834.2" r="3.7"/>
<circle cx="423.0" cy="862.6" r="3.7"/>
<circle cx="427.3" cy="852.0" r="3.7"/>
<circle cx="431.7" cy="862.8" r="3.7"/>
<circle cx="436.0" cy="867.8" r="3.7"/>
<circle cx="440.3" cy="852.0" r="3.7"/>
<circle cx="444.6" cy="846.0" r="3.7"/>
<circle cx="448.9" cy="860.4" r="3.7"/>
<circle cx="453.2" cy="855.4" r="3.7"/>
<circle cx="457.6" cy="849.0" r="3.7"/>
<circle cx="461.9" cy="856.4" r="3.7"/>
<circle cx="466.2" cy="858.8" r="3.7"/>
<circle cx="470.5" cy="846.0" r="3.7"/>
<circle cx="474.8" cy="854.4" r="3.7"/>
<circle cx="479.1" cy="857.4" r="3.7"/>
<circle cx="480.9" cy="856.3" r="3.7"/>
<circle cx="483.9" cy="854.5" r="3.7"/>
<circle cx="486.9" cy="852.6" r="3.7"/>
<circle cx="489.9" cy="853.4" r="3.7"/>
<circle cx="493.0" cy="855.3" r="3.7"/>
<circle cx="496.0" cy="857.1" r="3.7"/>
<circle cx="499.0" cy="857.8" r="3.7"/>
<circle cx="502.0" cy="858.3" r="3.7"/>
<circle cx="505.1" cy="858.8" r="3.7"/>
<circle cx="508.1" cy="858.1" r="3.7"/>
<circle cx="511.1" cy="857.4" r="3.7"/>
<circle cx="514.1" cy="856.8" r="3.7"/>
<circle cx="517.1" cy="857.2" r="3.7"/>
<circle cx="520.2" cy="859.0" r="3.7"/>
<circle cx="523.2" cy="860.7" r="3.7"/>
<circle cx="526.2" cy="862.5" r="3.7"/>
<circle cx="529.2" cy="862.9" r="3.7"/>
<circle cx="532.3" cy="862.9" r="3.7"/>
<circle cx="535.3" cy="863.0" r="3.7"/>
<circle cx="538.3" cy="863.1" r="3.7"/>
</g>
<text x="107.8" y="904.7" font-size="26.20" text-anchor="middle" fill="#262626">0</text>
<text x="194.2" y="904.7" font-size="26.20" text-anchor="middle" fill="#262626">2</text>
<text x="280.5" y="904.7" font-size="26.20" text-anchor="middle" fill="#262626">4</text>
<text x="366.9" y="904.7" font-size="26.20" text-anchor="middle" fill="#262626">6</text>
<text x="453.2" y="904.7" font-size="26.20" text-anchor="middle" fill="#262626">8</text>
<text x="539.6" y="904.7" font-size="26.20" text-anchor="middle" fill="#262626">10</text>
<text x="100.00" y="881.6" font-size="26.20" text-anchor="end" fill="#262626">0</text>
<text x="100.00" y="814.4" font-size="26.20" text-anchor="end" fill="#262626">0.2</text>
<text x="100.00" y="747.2" font-size="26.20" text-anchor="end" fill="#262626">0.4</text>
<text x="100.00" y="680.0" font-size="26.20" text-anchor="end" fill="#262626">0.6</text>
<text x="100.00" y="612.8" font-size="26.20" text-anchor="end" fill="#262626">0.8</text>
<text x="95.70" y="545.6" font-size="26.20" text-anchor="end" fill="#262626">1</text>
<text x="176.41" y="928.2" font-size="26.40" fill="#000">Scanning position (μm)</text>
<text transform="translate(53.0,891.4) rotate(-90) scale(1,1.03)" font-size="25.98" fill="#000">Normalized Brillouin intensity</text>
<path d="M235.3,760.4H278.4" stroke="#0072BD" stroke-width="2.7" stroke-dasharray="11.5,8.2" fill="none"/>
<path d="M235.3,784H278.4" stroke="#FF0000" stroke-width="2.7" fill="none"/>
<circle cx="256.85" cy="760.4" r="3.7" fill="none" stroke="#0072BD" stroke-width="2.9"/><circle cx="256.85" cy="784" r="3.7" fill="none" stroke="#FF0000" stroke-width="2.9"/>
<text x="282.72" y="769.2" font-size="26.91" fill="#000">CBM</text>
<text x="281.04" y="792.5" font-size="26.45" fill="#000">APCBRM</text>
<path d="M548.5,694H651.5V674L693.5,715.25L651.5,756.5V735H548.5Z" fill="#fff" stroke="#2F6298" stroke-width="2.1" stroke-linejoin="miter"/>
<text x="556.78" y="723.0" font-size="26.44" fill="#000">Derivation</text>
<path d="M771.0,868v-4.3M771.0,531.5v4.3M915.2,868v-4.3M915.2,531.5v4.3M1059.5,868v-4.3M1059.5,531.5v4.3M1203.7,868v-4.3M1203.7,531.5v4.3M771,868.0h4.3M1203.7,868.0h-4.3M771,699.8h4.3M1203.7,699.8h-4.3M771,531.5h4.3M1203.7,531.5h-4.3" stroke="#3c3c3c" stroke-width="1" fill="none" shape-rendering="crispEdges"/>
<rect x="771" y="531.5" width="432.70000000000005" height="336.5" fill="none" stroke="#3c3c3c" stroke-width="1" shape-rendering="crispEdges"/>
<path d="M771,699.8H1203.7" stroke="#000" stroke-width="2.1" stroke-dasharray="9.3,6.0" fill="none"/>
<polyline points="771.0,868.0 773.9,868.0 776.8,868.0 779.7,868.0 782.5,868.0 785.4,868.0 788.3,868.0 791.2,868.0 794.1,868.0 797.0,868.0 799.8,868.0 802.7,868.0 805.6,868.0 808.5,868.0 811.4,868.0 814.3,868.0 817.2,868.0 820.0,868.0 822.9,868.0 825.8,868.0 828.7,868.0 831.6,868.0 834.5,868.0 837.3,868.0 840.2,868.0 843.1,868.0 846.0,868.0 848.9,868.0 851.8,868.0 854.7,868.0 857.5,868.0 860.4,868.0 863.3,867.9 866.2,867.9 869.1,867.8 872.0,867.7 874.8,867.5 877.7,867.3 880.6,866.9 883.5,866.4 886.4,865.6 889.3,864.6 892.2,863.2 895.0,861.3 897.9,858.7 900.8,855.3 903.7,851.0 906.6,845.5 909.5,838.6 912.3,830.1 915.2,819.9 918.1,807.7 921.0,793.5 923.9,777.2 926.8,758.9 929.7,738.8 932.5,717.0 935.4,693.9 938.3,670.1 941.2,646.1 944.1,622.6 947.0,600.4 949.8,580.2 952.7,562.8 955.6,548.7 958.5,538.6 961.4,532.8 964.3,531.6 967.2,535.1 970.0,543.1 972.9,555.3 975.8,571.1 978.7,590.0 981.6,611.3 984.5,634.2 987.4,658.1 990.2,682.0 993.1,705.5 996.0,728.0 998.9,749.1 1001.8,768.3 1004.7,785.6 1007.5,800.9 1010.4,814.0 1013.3,825.2 1016.2,834.6 1019.1,842.2 1022.0,848.4 1024.9,853.3 1027.7,857.1 1030.6,860.1 1033.5,862.3 1036.4,863.9 1039.3,865.2 1042.2,866.0 1045.0,866.7 1047.9,867.1 1050.8,867.4 1053.7,867.6 1056.6,867.8 1059.5,867.8 1062.4,867.9 1065.2,867.9 1068.1,868.0 1071.0,868.0 1073.9,868.0 1076.8,868.0 1079.7,868.0 1082.5,868.0 1085.4,868.0 1088.3,868.0 1091.2,868.0 1094.1,868.0 1097.0,868.0 1099.9,868.0 1102.7,868.0 1105.6,868.0 1108.5,868.0 1111.4,868.0 1114.3,868.0 1117.2,868.0 1120.0,868.0 1122.9,868.0 1125.8,868.0 1128.7,868.0 1131.6,868.0 1134.5,868.0 1137.4,868.0 1140.2,868.0 1143.1,868.0 1146.0,868.0 1148.9,868.0 1151.8,868.0 1154.7,868.0 1157.5,868.0 1160.4,868.0 1163.3,868.0 1166.2,868.0 1169.1,868.0 1172.0,868.0 1174.9,868.0 1177.7,868.0 1180.6,868.0 1183.5,868.0 1186.4,868.0 1189.3,868.0 1192.2,868.0 1195.0,868.0 1197.9,868.0 1200.8,868.0 1203.7,868.0" fill="none" stroke="#0072BD" stroke-width="2.7" stroke-dasharray="20,10" stroke-linejoin="round"/>
<polyline points="771.0,868.0 773.9,868.0 776.8,868.0 779.7,868.0 782.5,868.0 785.4,868.0 788.3,868.0 791.2,868.0 794.1,868.0 797.0,868.0 799.8,868.0 802.7,868.0 805.6,868.0 808.5,868.0 811.4,868.0 814.3,868.0 817.2,868.0 820.0,868.0 822.9,868.0 825.8,868.0 828.7,868.0 831.6,868.0 834.5,868.0 837.3,868.0 840.2,868.0 843.1,868.0 846.0,868.0 848.9,868.0 851.8,868.0 854.7,868.0 857.5,868.0 860.4,868.0 863.3,868.0 866.2,868.0 869.1,867.9 872.0,867.9 874.8,867.8 877.7,867.7 880.6,867.6 883.5,867.3 886.4,866.9 889.3,866.3 892.2,865.4 895.0,864.1 897.9,862.2 900.8,859.7 903.7,856.1 906.6,851.4 909.5,845.3 912.3,837.3 915.2,827.4 918.1,815.1 921.0,800.3 923.9,782.9 926.8,762.9 929.7,740.5 932.5,715.9 935.4,689.8 938.3,662.9 941.2,636.0 944.1,610.1 947.0,586.4 949.8,565.9 952.7,549.5 955.6,538.1 958.5,532.2 961.4,532.2 964.3,538.1 967.2,549.5 970.0,565.9 972.9,586.4 975.8,610.1 978.7,636.0 981.6,662.9 984.5,689.8 987.4,715.9 990.2,740.5 993.1,762.9 996.0,782.9 998.9,800.3 1001.8,815.1 1004.7,827.4 1007.5,837.3 1010.4,845.3 1013.3,851.4 1016.2,856.1 1019.1,859.7 1022.0,862.2 1024.9,864.1 1027.7,865.4 1030.6,866.3 1033.5,866.9 1036.4,867.3 1039.3,867.6 1042.2,867.7 1045.0,867.8 1047.9,867.9 1050.8,867.9 1053.7,868.0 1056.6,868.0 1059.5,868.0 1062.4,868.0 1065.2,868.0 1068.1,868.0 1071.0,868.0 1073.9,868.0 1076.8,868.0 1079.7,868.0 1082.5,868.0 1085.4,868.0 1088.3,868.0 1091.2,868.0 1094.1,868.0 1097.0,868.0 1099.9,868.0 1102.7,868.0 1105.6,868.0 1108.5,868.0 1111.4,868.0 1114.3,868.0 1117.2,868.0 1120.0,868.0 1122.9,868.0 1125.8,868.0 1128.7,868.0 1131.6,868.0 1134.5,868.0 1137.4,868.0 1140.2,868.0 1143.1,868.0 1146.0,868.0 1148.9,868.0 1151.8,868.0 1154.7,868.0 1157.5,868.0 1160.4,868.0 1163.3,868.0 1166.2,868.0 1169.1,868.0 1172.0,868.0 1174.9,868.0 1177.7,868.0 1180.6,868.0 1183.5,868.0 1186.4,868.0 1189.3,868.0 1192.2,868.0 1195.0,868.0 1197.9,868.0 1200.8,868.0 1203.7,868.0" fill="none" stroke="#FF0000" stroke-width="2.7" stroke-linejoin="round"/>
<text x="771.0" y="900.3" font-size="26.20" text-anchor="middle" fill="#262626">1</text>
<text x="915.2" y="900.3" font-size="26.20" text-anchor="middle" fill="#262626">2</text>
<text x="1059.5" y="900.3" font-size="26.20" text-anchor="middle" fill="#262626">3</text>
<text x="1203.7" y="900.3" font-size="26.20" text-anchor="middle" fill="#262626">4</text>
<text x="766.30" y="877.4" font-size="26.20" text-anchor="end" fill="#262626">0</text>
<text x="766.30" y="709.1" font-size="26.20" text-anchor="end" fill="#262626">0.5</text>
<text x="762.00" y="540.9" font-size="26.20" text-anchor="end" fill="#262626">1</text>
<text x="827.81" y="926.6" font-size="26.46" fill="#000">Scanning position (μm)</text>
<text transform="translate(722.7,855.5) rotate(-90) scale(1,1.03)" font-size="25.95" fill="#000">Normalized Brillouin LSF</text>
<path d="M1023.2,568.6H1066.3" stroke="#0072BD" stroke-width="2.7" stroke-dasharray="11.5,8.2" fill="none"/>
<path d="M1023.2,593.3H1066.3" stroke="#FF0000" stroke-width="2.7" fill="none"/>
<text x="1070.74" y="577.8" font-size="26.59" fill="#000">CBM</text>
<text x="1068.34" y="601.6" font-size="26.59" fill="#000">APCBRM</text>
<text x="1277.92" y="516.1" font-size="41.61" fill="#000">(d)</text>
<rect x="1395.1" y="627.2" width="50.6" height="254.8" fill="#0072BD" stroke="#000" stroke-width="0.9"/>
<path d="M1421.2,615.1V639.3M1414.4,615.1h13.6M1414.4,639.3h13.6" stroke="#000" stroke-width="2.9" fill="none"/>
<rect x="1458" y="648.7" width="50.2" height="233.3" fill="#FF0000" stroke="#000" stroke-width="0.9"/>
<path d="M1482.3,637.7V659.6M1475.5,637.7h13.6M1475.5,659.6h13.6" stroke="#000" stroke-width="2.9" fill="none"/>
<rect x="1614.2" y="615.1" width="50.6" height="266.9" fill="#0072BD" stroke="#000" stroke-width="0.9"/>
<path d="M1640.3,603.2V627.0M1633.5,603.2h13.6M1633.5,627.0h13.6" stroke="#000" stroke-width="2.9" fill="none"/>
<rect x="1676.8" y="644.7" width="50.7" height="237.3" fill="#FF0000" stroke="#000" stroke-width="0.9"/>
<path d="M1701.4,634.2V655.1M1694.6,634.2h13.6M1694.6,655.1h13.6" stroke="#000" stroke-width="2.9" fill="none"/>
<path d="M1345.3,882.0h4.3M1777,882.0h-4.3M1345.3,814.9h4.3M1777,814.9h-4.3M1345.3,747.7h4.3M1777,747.7h-4.3M1345.3,680.6h4.3M1777,680.6h-4.3M1345.3,613.4h4.3M1777,613.4h-4.3M1345.3,546.3h4.3M1777,546.3h-4.3M1451.6,882v-4.3M1451.6,546.3v4.3M1670.7,882v-4.3M1670.7,546.3v4.3" stroke="#3c3c3c" stroke-width="1" fill="none" shape-rendering="crispEdges"/>
<rect x="1345.3" y="546.3" width="431.70000000000005" height="335.70000000000005" fill="none" stroke="#3c3c3c" stroke-width="1" shape-rendering="crispEdges"/>
<text x="1341.60" y="891.4" font-size="26.20" text-anchor="end" fill="#262626">0</text>
<text x="1341.60" y="824.3" font-size="26.20" text-anchor="end" fill="#262626">100</text>
<text x="1341.60" y="757.1" font-size="26.20" text-anchor="end" fill="#262626">200</text>
<text x="1341.60" y="690.0" font-size="26.20" text-anchor="end" fill="#262626">300</text>
<text x="1341.60" y="622.8" font-size="26.20" text-anchor="end" fill="#262626">400</text>
<text x="1341.60" y="555.7" font-size="26.20" text-anchor="end" fill="#262626">500</text>
<text x="1337.38" y="916.8" font-size="26.48" fill="#000">Raman mapping</text>
<text x="1575.18" y="916.8" font-size="26.43" fill="#000">Brillouin mapping</text>
<text transform="translate(1286.6,830.8) rotate(-90) scale(1,1.03)" font-size="25.92" fill="#000">Lateral resolution (nm)</text>
<rect x="1453.4" y="554.9" width="42.6" height="22.6" fill="#0072BD" stroke="#000" stroke-width="0.9"/>
<rect x="1453.4" y="587" width="42.6" height="22.2" fill="#FF0000" stroke="#000" stroke-width="0.9"/>
<text x="1504.43" y="574.6" font-size="26.79" fill="#000">CRM/CBM</text>
<text x="1507.63" y="606.6" font-size="26.61" fill="#000">APCBRM</text>
</svg></body></html>
